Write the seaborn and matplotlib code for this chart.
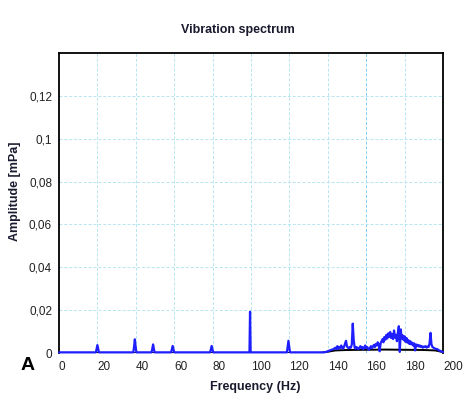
import numpy as np
import pandas as pd
import matplotlib
matplotlib.use("Agg")
import matplotlib.pyplot as plt
import seaborn as sns

sns.set_style("white")
plt.rcParams["font.family"] = ["Liberation Sans", "DejaVu Sans"]

# Spectrum vertices (Hz, mPa)
low_freq = [0, 19.2, 19.6, 20.0, 20.4, 20.8,
            38.7, 39.1, 39.5, 39.9, 40.3,
            48.2, 48.6, 49.0, 49.4, 49.8,
            58.4, 58.8, 59.2, 59.6, 60.0,
            78.7, 79.1, 79.5, 79.9, 80.3,
            99.2, 99.5, 99.8,
            118.7, 119.1, 119.5, 119.9, 120.3]
low_amp = [0.0003, 0.0003, 0.002, 0.0037, 0.002, 0.0003,
           0.0003, 0.003, 0.0064, 0.003, 0.0003,
           0.0003, 0.002, 0.004, 0.002, 0.0003,
           0.0003, 0.0018, 0.0033, 0.0018, 0.0003,
           0.0003, 0.0018, 0.0033, 0.0018, 0.0003,
           0.0003, 0.0192, 0.0003,
           0.0003, 0.003, 0.0057, 0.003, 0.0003]

high_freq = [138, 139, 140, 141, 142, 143, 144, 144.5, 145, 145.5, 146, 146.5,
             147, 147.5, 148, 148.5, 149, 149.5, 150, 150.5, 151, 151.5, 152,
             152.5, 153, 153.5, 154, 154.5, 155, 155.5, 156, 156.5, 157, 157.5,
             158, 158.5, 159, 159.5, 160, 160.5, 161, 161.5, 162, 162.5, 163,
             163.5, 164, 164.5, 165, 165.5, 166, 166.5, 167, 167.5, 168, 168.5,
             169, 169.5, 170, 170.5, 171, 171.5, 172, 172.5, 173, 173.5, 174,
             174.5, 175, 175.5, 176, 176.5, 177, 177.5, 178, 178.5, 179, 179.5,
             180, 180.5, 181, 181.5, 182, 182.5, 183, 183.5, 184, 184.5, 185,
             185.5, 186, 186.5, 187, 187.5, 188, 188.5, 189, 189.5, 190, 190.5,
             191, 191.5, 192, 192.5, 193, 193.5, 194, 194.5, 195, 195.5, 196,
             197, 198, 199, 200]
high_amp = [0.0003, 0.0005, 0.0008, 0.0012, 0.0015, 0.0018, 0.0025, 0.0018,
            0.0032, 0.002, 0.0028, 0.0022, 0.0035, 0.0025, 0.002, 0.003,
            0.0045, 0.0057, 0.003, 0.0025, 0.0022, 0.0028, 0.0025, 0.004,
            0.0137, 0.006, 0.0025, 0.002, 0.0028, 0.0022, 0.0018, 0.0025,
            0.0032, 0.0022, 0.0028, 0.0018, 0.0025, 0.0035, 0.0022, 0.0028,
            0.002, 0.0015, 0.0025, 0.0032, 0.0022, 0.003, 0.0038, 0.0028,
            0.0042, 0.0035, 0.005, 0.004, 0.0008, 0.0045, 0.0055, 0.0065,
            0.005, 0.0075, 0.0062, 0.0085, 0.0068, 0.0092, 0.0075, 0.0098,
            0.007, 0.0088, 0.0065, 0.0105, 0.0072, 0.0085, 0.0055, 0.0095,
            0.0125, 0.0005, 0.011, 0.0068, 0.0082, 0.006, 0.0078, 0.0052,
            0.007, 0.0048, 0.006, 0.0042, 0.0055, 0.004, 0.0048, 0.0035,
            0.0045, 0.0012, 0.004, 0.0032, 0.0038, 0.003, 0.0035, 0.0028,
            0.0032, 0.0025, 0.003, 0.0028, 0.0032, 0.0025, 0.003, 0.0028,
            0.0045, 0.0094, 0.004, 0.0028, 0.0025, 0.0022, 0.002, 0.0018,
            0.0012, 0.0008, 0.0005]

# Smoothed envelope (black) under the noisy part
env_freq = [0, 136, 140, 144, 150, 160, 170, 180, 190, 196, 198, 200]
env_amp = [0.0, 0.0, 0.0006, 0.0012, 0.0014, 0.0015, 0.0016, 0.0015, 0.0014,
           0.0012, 0.0008, 0.0004]

spectrum = pd.DataFrame({"freq": low_freq + high_freq,
                         "amp": low_amp + high_amp})
envelope = pd.DataFrame({"freq": env_freq, "amp": env_amp})

x_ticks = list(range(0, 201, 20))
y_ticks = [0, 0.02, 0.04, 0.06, 0.08, 0.1, 0.12]
y_labels = ["0", "0,02", "0,04", "0,06", "0,08", "0,1", "0,12"]

fig = plt.figure(figsize=(4.77, 4.2), dpi=100)
ax = fig.add_axes([59 / 477, 1 - 353 / 420, 384 / 477, 300 / 420])

sns.lineplot(data=envelope, x="freq", y="amp", ax=ax, color="black",
             linewidth=1.4, estimator=None, sort=False, zorder=3)
sns.lineplot(data=spectrum, x="freq", y="amp", ax=ax, color="#1e1eff",
             linewidth=1.6, estimator=None, sort=False, zorder=4,
             clip_on=False)

ax.set_xlim(0, 200)
ax.set_ylim(0, 0.14)

# dashed cyan grid
for xv in x_ticks[1:-1]:
    c = "#7fcdf2" if xv == 160 else "#b5e6f2"
    ax.axvline(xv, color=c, linestyle=(0, (3, 2)), linewidth=0.7, zorder=1)
for yv in y_ticks[1:]:
    ax.axhline(yv, color="#b5e6f2", linestyle=(0, (3, 2)), linewidth=0.7,
               zorder=1)

ax.set_xticks(x_ticks)
ax.set_xticklabels([str(v) for v in x_ticks], ha="left")
ax.set_yticks(y_ticks)
ax.set_yticklabels(y_labels)
ax.tick_params(axis="both", length=0, labelsize=8.5, colors="#222222")
ax.tick_params(axis="x", pad=6)
ax.tick_params(axis="y", pad=5)

for side in ["top", "right", "left"]:
    ax.spines[side].set_color("black")
    ax.spines[side].set_linewidth(1.3)
ax.spines["bottom"].set_visible(False)

ax.set_xlabel("")
ax.set_ylabel("")
fig.text(255 / 477, 1 - 387 / 420, "Frequency (Hz)", fontsize=9,
         fontweight="bold", color="#1a1a2e", ha="center", va="center")
fig.text(15 / 477, 1 - 191 / 420, "Amplitude [mPa]", fontsize=9,
         fontweight="bold", color="#1a1a2e", ha="center", va="center",
         rotation=90)
fig.text(238 / 477, 1 - 30 / 420, "Vibration spectrum", fontsize=9,
         fontweight="bold", color="#1a1a2e", ha="center", va="center")
fig.text(28 / 477, 1 - 366 / 420, "A", fontsize=14, fontweight="bold",
         color="black", ha="center", va="center")

plt.savefig("out.png", dpi=100)
